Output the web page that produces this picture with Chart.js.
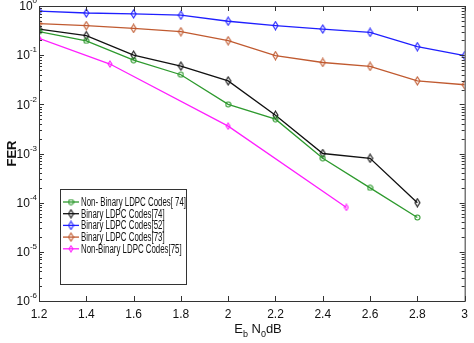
<!DOCTYPE html>
<html>
<head>
<meta charset="utf-8">
<script src="https://cdn.jsdelivr.net/npm/chart.js@4.4.1/dist/chart.umd.min.js"></script>
<style>
  html, body { margin: 0; padding: 0; background: #fff; }
  canvas { display: block; }
</style>
</head>
<body>
<canvas id="ferChart" width="474" height="343"></canvas>
<script>
const FONT = '"Liberation Sans Narrow", "Liberation Sans", Arial, sans-serif';

// Eb/N0 points (dB)
const snrLong = [1.2, 1.4, 1.6, 1.8, 2.0, 2.2, 2.4, 2.6, 2.8, 3.0];
const snrShort = [1.2, 1.4, 1.6, 1.8, 2.0, 2.2, 2.4, 2.6, 2.8];
const snrNb75 = [1.2, 1.5, 2.0, 2.5];

// frame error rates
const ferNb74 = [0.30, 0.195, 0.079, 0.04, 0.01, 0.005, 0.0008, 0.0002, 0.00005];
const ferB74 = [0.34, 0.25, 0.10, 0.06, 0.03, 0.006, 0.001, 0.0008, 0.0001];
const ferB52 = [0.79, 0.72, 0.69, 0.65, 0.49, 0.40, 0.34, 0.29, 0.149, 0.098];
const ferB73 = [0.44, 0.40, 0.35, 0.30, 0.197, 0.098, 0.071, 0.059, 0.030, 0.025];
const ferNb75 = [0.22, 0.066, 0.0036, 0.00008];

const seriesNames = [
    'Non- Binary LDPC Codes[ 74]',
    'Binary LDPC Codes[74]',
    'Binary LDPC Codes[52]',
    'Binary LDPC Codes[73]',
    'Non-Binary LDPC Codes[75]'
];

const yTickExps = [0, -1, -2, -3, -4, -5, -6];

function pts(xs, ys) {
    return ys.map((y, i) => ({ x: xs[i], y: y }));
}

// small hollow marker sprites (narrow diamond / circle)
function marker(color, kind, w, h) {
    const cv = document.createElement('canvas');
    cv.width = w + 2;
    cv.height = h + 2;
    const g = cv.getContext('2d');
    g.strokeStyle = color;
    g.lineWidth = 1.1;
    const cx = cv.width / 2, cy = cv.height / 2;
    g.beginPath();
    if (kind === 'circle') {
        g.arc(cx, cy, w / 2, 0, Math.PI * 2);
    } else {
        g.moveTo(cx, cy - h / 2);
        g.lineTo(cx + w / 2, cy);
        g.lineTo(cx, cy + h / 2);
        g.lineTo(cx - w / 2, cy);
        g.closePath();
    }
    g.stroke();
    return cv;
}

function makeSet(label, xs, ys, color, sprite) {
    return {
        label: label,
        data: pts(xs, ys),
        borderColor: color,
        backgroundColor: 'rgba(0,0,0,0)',
        borderWidth: 1.3,
        pointStyle: sprite,
        pointRadius: 4,
        tension: 0,
        fill: false
    };
}

const datasets = [
    makeSet(seriesNames[0], snrShort, ferNb74, '#2e9a2e', marker('#2e9a2e', 'circle', 5, 5)),
    makeSet(seriesNames[1], snrShort, ferB74, '#111111', marker('#111111', 'diamond', 5, 8)),
    makeSet(seriesNames[2], snrLong, ferB52, '#1f1fff', marker('#1f1fff', 'diamond', 5, 8)),
    makeSet(seriesNames[3], snrLong, ferB73, '#c05a30', marker('#c05a30', 'diamond', 5, 8)),
    makeSet(seriesNames[4], snrNb75, ferNb75, '#ff1fff', marker('#ff1fff', 'diamond', 4, 6))
];

// box, inward ticks, y labels with exponents, titles and legend
const framePlugin = {
    id: 'frame',
    afterDraw(chart) {
        const c = chart.ctx;
        const a = chart.chartArea;
        const xs = chart.scales.x;
        const ys = chart.scales.y;
        c.save();
        c.strokeStyle = '#333';
        c.lineWidth = 1;
        c.strokeRect(a.left + 0.5, a.top + 0.5, a.right - a.left, a.bottom - a.top);

        c.beginPath();
        for (let i = 0; i < snrLong.length; i++) {
            const px = Math.round(xs.getPixelForValue(snrLong[i])) + 0.5;
            c.moveTo(px, a.bottom); c.lineTo(px, a.bottom - 5);
            c.moveTo(px, a.top); c.lineTo(px, a.top + 5);
        }
        for (let e = -6; e <= 0; e++) {
            for (let m = 1; m <= 9; m++) {
                const v = m * Math.pow(10, e);
                if (v > 1) break;
                const py = Math.round(ys.getPixelForValue(v)) + 0.5;
                const len = m === 1 ? 5 : 3;
                c.moveTo(a.left, py); c.lineTo(a.left + len, py);
                c.moveTo(a.right, py); c.lineTo(a.right - len, py);
            }
        }
        c.stroke();

        // y tick labels
        c.fillStyle = '#111';
        c.textBaseline = 'middle';
        yTickExps.forEach(e => {
            const py = ys.getPixelForValue(Math.pow(10, e));
            const sup = String(e);
            c.font = '8px ' + FONT;
            const sw = c.measureText(sup).width;
            c.textAlign = 'right';
            c.fillText(sup, a.left - 2, py - 5);
            c.font = '12px ' + FONT;
            c.fillText('10', a.left - 2 - sw, py + 1);
        });

        // y title
        c.save();
        c.translate(12, (a.top + a.bottom) / 2);
        c.rotate(-Math.PI / 2);
        c.font = 'bold 13px ' + FONT;
        c.textAlign = 'center';
        c.fillText('FER', 0, 0);
        c.restore();

        // x title: Eb N0 dB with subscripts
        const parts = [['E', 0, 13], ['b', 4, 9], [' N', 0, 13], ['0', 4, 9], ['dB', 0, 13]];
        let total = 0;
        parts.forEach(p => { c.font = p[2] + 'px ' + FONT; total += c.measureText(p[0]).width; });
        let tx = 258 - total / 2;
        c.textAlign = 'left';
        c.textBaseline = 'alphabetic';
        parts.forEach(p => {
            c.font = p[2] + 'px ' + FONT;
            c.fillText(p[0], tx, 333 + p[1]);
            tx += c.measureText(p[0]).width;
        });

        // legend
        c.fillStyle = '#fff';
        c.fillRect(60.5, 189.5, 126, 95);
        c.strokeStyle = '#333';
        c.lineWidth = 1;
        c.strokeRect(60.5, 189.5, 126, 95);
        c.font = '12.5px ' + FONT;
        c.textBaseline = 'middle';
        c.textAlign = 'left';
        chart.data.datasets.forEach((ds, i) => {
            const ly = 202 + i * 11.7;
            c.strokeStyle = ds.borderColor;
            c.lineWidth = 1.3;
            c.beginPath();
            c.moveTo(63, ly); c.lineTo(79, ly);
            c.stroke();
            const img = ds.pointStyle;
            c.drawImage(img, 71 - img.width / 2, ly - img.height / 2);
            // condensed label text
            c.save();
            c.translate(81, ly + 0.5);
            c.scale(0.63, 1);
            c.fillStyle = '#111';
            c.fillText(ds.label, 0, 0);
            c.restore();
        });
        c.restore();
    }
};

const ctx = document.getElementById('ferChart').getContext('2d');
const ferChart = new Chart(ctx, {
    type: 'line',
    data: { datasets: datasets },
    options: {
        responsive: false,
        animation: false,
        layout: { padding: { top: 6, right: 8, left: 0, bottom: 0 } },
        plugins: {
            legend: { display: false },
            tooltip: { enabled: false }
        },
        scales: {
            x: {
                type: 'linear',
                min: 1.2,
                max: 3,
                grid: { display: false, drawTicks: false },
                border: { display: false },
                ticks: {
                    stepSize: 0.2,
                    padding: 6,
                    color: '#111',
                    font: { family: FONT, size: 12 },
                    callback: v => String(Number(v.toFixed(1)))
                },
                afterFit: s => { s.height = 42; }
            },
            y: {
                type: 'logarithmic',
                min: 1e-6,
                max: 1,
                grid: { display: false, drawTicks: false },
                border: { display: false },
                ticks: { display: false },
                afterFit: s => { s.width = 39; }
            }
        }
    },
    plugins: [framePlugin]
});
</script>
</body>
</html>
